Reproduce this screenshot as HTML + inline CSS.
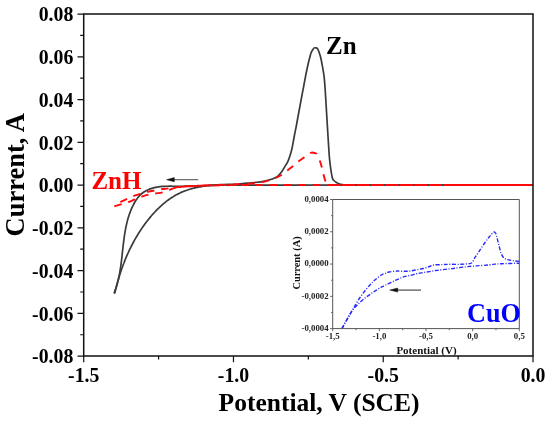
<!DOCTYPE html><html><head><meta charset="utf-8"><style>html,body{margin:0;padding:0;background:#fff;}svg{display:block;}text{font-family:"Liberation Serif","Times New Roman",serif;font-weight:bold;}</style></head><body>
<svg width="550" height="421" viewBox="0 0 550 421">
<rect width="550" height="421" fill="#fff"/>
<path d="M532.8,185.0 L240.01,185.09 C239.71,185.08 238.82,185.05 238.22,185.04 C237.63,185.02 237.04,185.01 236.44,185.00 C235.85,184.99 235.26,184.98 234.68,184.97 C234.09,184.96 233.50,184.96 232.92,184.95 C232.33,184.95 231.75,184.95 231.17,184.95 C230.58,184.95 230.00,184.95 229.42,184.95 C228.84,184.95 228.26,184.95 227.68,184.96 C227.11,184.96 226.53,184.97 225.95,184.97 C225.38,184.98 224.80,184.99 224.23,185.00 C223.65,185.01 223.08,185.02 222.51,185.03 C221.94,185.04 221.37,185.05 220.80,185.07 C220.22,185.08 219.66,185.09 219.09,185.11 C218.52,185.12 217.95,185.14 217.38,185.16 C216.81,185.17 216.24,185.19 215.68,185.21 C215.11,185.23 214.54,185.25 213.98,185.26 C213.41,185.28 212.85,185.30 212.28,185.32 C211.72,185.34 211.15,185.36 210.59,185.39 C210.02,185.41 209.46,185.43 208.89,185.45 C208.33,185.47 207.76,185.49 207.20,185.51 C206.64,185.54 206.07,185.56 205.51,185.58 C204.94,185.60 204.38,185.62 203.81,185.65 C203.25,185.67 202.69,185.69 202.12,185.71 C201.56,185.73 200.99,185.76 200.43,185.78 C199.86,185.80 199.30,185.82 198.73,185.84 C198.17,185.86 197.60,185.88 197.03,185.90 C196.47,185.92 195.90,185.94 195.33,185.96 C194.76,185.98 194.20,186.00 193.63,186.02 C193.06,186.03 192.49,186.05 191.92,186.07 C191.35,186.08 190.78,186.10 190.21,186.12 C189.64,186.13 189.06,186.14 188.49,186.16 C187.92,186.17 187.35,186.18 186.77,186.19 C186.20,186.21 185.62,186.22 185.04,186.22 C184.47,186.23 183.89,186.24 183.31,186.25 C182.73,186.26 182.15,186.26 181.57,186.27 C180.99,186.27 180.40,186.27 179.82,186.27 C179.24,186.28 178.65,186.28 178.07,186.27 C177.48,186.27 176.89,186.27 176.30,186.27 C175.71,186.26 175.12,186.26 174.53,186.25 C173.94,186.24 173.35,186.24 172.75,186.23 C172.16,186.23 171.57,186.22 170.97,186.22 C170.38,186.21 169.78,186.21 169.19,186.22 C168.60,186.22 168.00,186.22 167.41,186.23 C166.82,186.24 166.22,186.25 165.63,186.27 C165.04,186.29 164.45,186.32 163.86,186.35 C163.27,186.38 162.68,186.42 162.10,186.46 C161.51,186.51 160.93,186.56 160.35,186.62 C159.76,186.69 159.19,186.76 158.61,186.84 C158.03,186.92 157.46,187.01 156.89,187.11 C156.32,187.21 155.75,187.32 155.18,187.45 C154.62,187.57 154.06,187.71 153.51,187.85 C152.95,188.00 152.40,188.16 151.86,188.32 C151.32,188.49 150.78,188.68 150.25,188.87 C149.72,189.06 149.19,189.27 148.67,189.49 C148.16,189.71 147.64,189.94 147.14,190.18 C146.64,190.42 146.15,190.68 145.66,190.95 C145.18,191.22 144.70,191.51 144.24,191.80 C143.77,192.10 143.32,192.41 142.87,192.74 C142.43,193.06 141.99,193.40 141.57,193.76 C141.15,194.11 140.73,194.48 140.33,194.86 C139.94,195.25 139.55,195.65 139.17,196.06 C138.80,196.47 138.43,196.90 138.08,197.33 C137.73,197.77 137.39,198.22 137.06,198.68 C136.72,199.13 136.40,199.60 136.09,200.08 C135.78,200.55 135.47,201.04 135.18,201.53 C134.89,202.02 134.60,202.51 134.32,203.01 C134.04,203.51 133.77,204.02 133.51,204.53 C133.25,205.04 132.99,205.55 132.74,206.06 C132.49,206.57 132.25,207.09 132.02,207.61 C131.78,208.13 131.55,208.65 131.33,209.17 C131.10,209.69 130.89,210.22 130.68,210.75 C130.47,211.28 130.26,211.81 130.06,212.34 C129.86,212.87 129.67,213.40 129.48,213.94 C129.30,214.48 129.11,215.02 128.94,215.56 C128.76,216.10 128.59,216.64 128.42,217.18 C128.26,217.73 128.10,218.28 127.94,218.82 C127.78,219.37 127.63,219.92 127.49,220.47 C127.34,221.02 127.20,221.58 127.06,222.13 C126.92,222.69 126.79,223.24 126.66,223.80 C126.53,224.36 126.40,224.92 126.28,225.48 C126.16,226.04 126.04,226.60 125.92,227.17 C125.81,227.73 125.70,228.30 125.59,228.86 C125.48,229.43 125.38,230.00 125.28,230.56 C125.18,231.13 125.08,231.70 124.98,232.27 C124.89,232.84 124.79,233.42 124.70,233.99 C124.61,234.56 124.53,235.13 124.44,235.71 C124.36,236.28 124.27,236.86 124.19,237.43 C124.11,238.01 124.03,238.59 123.96,239.16 C123.88,239.74 123.80,240.32 123.73,240.90 C123.66,241.47 123.59,242.05 123.52,242.63 C123.44,243.21 123.38,243.79 123.31,244.37 C123.24,244.95 123.17,245.53 123.11,246.11 C123.04,246.69 122.97,247.27 122.91,247.86 C122.84,248.44 122.78,249.02 122.72,249.60 C122.65,250.18 122.59,250.76 122.52,251.34 C122.46,251.92 122.40,252.51 122.33,253.09 C122.27,253.67 122.21,254.25 122.14,254.83 C122.08,255.41 122.01,255.99 121.95,256.57 C121.88,257.15 121.82,257.73 121.75,258.31 C121.68,258.89 121.61,259.47 121.55,260.05 C121.48,260.63 121.41,261.20 121.33,261.78 C121.26,262.36 121.19,262.93 121.12,263.51 C121.04,264.09 120.96,264.66 120.89,265.24 C120.81,265.81 120.73,266.38 120.65,266.96 C120.56,267.53 120.48,268.10 120.39,268.67 C120.30,269.24 120.22,269.81 120.12,270.38 C120.03,270.95 119.94,271.52 119.84,272.08 C119.74,272.65 119.64,273.22 119.54,273.78 C119.43,274.34 119.33,274.91 119.22,275.47 C119.11,276.03 118.99,276.59 118.88,277.15 C118.76,277.70 118.64,278.26 118.51,278.82 C118.39,279.37 118.26,279.93 118.13,280.48 C117.99,281.03 117.86,281.58 117.72,282.13 C117.58,282.68 117.43,283.22 117.28,283.77 C117.13,284.31 116.97,284.86 116.81,285.40 C116.65,285.94 116.49,286.48 116.32,287.01 C116.15,287.55 115.97,288.08 115.79,288.62 C115.61,289.15 115.43,289.68 115.24,290.21 C115.04,290.74 114.85,291.26 114.64,291.79 C114.44,292.31 114.12,293.09 114.02,293.35" fill="none" stroke="#3a3a3a" stroke-width="1.7" stroke-linejoin="round"/>
<path d="M114.62,293.57 C114.68,293.33 114.85,292.58 114.97,292.08 C115.09,291.58 115.21,291.08 115.33,290.58 C115.45,290.09 115.57,289.59 115.69,289.09 C115.82,288.59 115.94,288.09 116.07,287.60 C116.20,287.10 116.33,286.60 116.46,286.10 C116.59,285.61 116.72,285.11 116.86,284.61 C116.99,284.12 117.13,283.62 117.26,283.12 C117.40,282.63 117.54,282.13 117.68,281.64 C117.82,281.14 117.97,280.64 118.11,280.15 C118.25,279.65 118.40,279.16 118.55,278.66 C118.70,278.17 118.84,277.68 119.00,277.18 C119.15,276.69 119.30,276.19 119.46,275.70 C119.61,275.21 119.77,274.72 119.93,274.22 C120.08,273.73 120.24,273.24 120.41,272.75 C120.57,272.26 120.73,271.77 120.90,271.28 C121.06,270.79 121.23,270.30 121.40,269.81 C121.57,269.32 121.74,268.83 121.91,268.34 C122.08,267.85 122.26,267.37 122.44,266.88 C122.61,266.39 122.79,265.91 122.97,265.42 C123.15,264.94 123.33,264.45 123.52,263.97 C123.70,263.48 123.89,263.00 124.08,262.52 C124.26,262.03 124.45,261.55 124.65,261.07 C124.84,260.59 125.03,260.11 125.23,259.63 C125.42,259.15 125.62,258.67 125.82,258.19 C126.02,257.71 126.22,257.23 126.42,256.76 C126.63,256.28 126.83,255.80 127.04,255.33 C127.25,254.85 127.46,254.38 127.67,253.91 C127.88,253.43 128.09,252.96 128.31,252.49 C128.53,252.02 128.74,251.55 128.96,251.08 C129.18,250.61 129.40,250.14 129.63,249.67 C129.85,249.20 130.08,248.73 130.30,248.27 C130.53,247.80 130.76,247.34 130.99,246.87 C131.23,246.41 131.46,245.95 131.70,245.49 C131.93,245.03 132.17,244.56 132.41,244.11 C132.65,243.65 132.89,243.19 133.14,242.73 C133.38,242.27 133.63,241.82 133.88,241.36 C134.13,240.91 134.38,240.45 134.63,240.00 C134.88,239.55 135.14,239.10 135.40,238.65 C135.65,238.20 135.91,237.75 136.18,237.30 C136.44,236.85 136.70,236.41 136.97,235.96 C137.23,235.52 137.50,235.07 137.77,234.63 C138.04,234.19 138.32,233.75 138.59,233.31 C138.87,232.87 139.14,232.43 139.42,231.99 C139.70,231.55 139.99,231.12 140.27,230.68 C140.55,230.25 140.84,229.82 141.13,229.39 C141.42,228.95 141.71,228.52 142.00,228.10 C142.30,227.67 142.59,227.24 142.89,226.82 C143.19,226.39 143.49,225.97 143.79,225.54 C144.09,225.12 144.40,224.70 144.70,224.28 C145.01,223.86 145.32,223.44 145.63,223.03 C145.95,222.61 146.26,222.20 146.58,221.79 C146.89,221.37 147.21,220.96 147.53,220.55 C147.86,220.14 148.18,219.73 148.51,219.33 C148.83,218.92 149.16,218.52 149.49,218.12 C149.82,217.71 150.16,217.31 150.49,216.91 C150.83,216.51 151.17,216.12 151.51,215.72 C151.85,215.32 152.19,214.93 152.54,214.54 C152.88,214.15 153.23,213.76 153.58,213.37 C153.93,212.98 154.29,212.60 154.64,212.21 C155.00,211.83 155.36,211.45 155.72,211.07 C156.08,210.69 156.44,210.32 156.81,209.95 C157.17,209.57 157.54,209.20 157.91,208.84 C158.28,208.47 158.66,208.11 159.03,207.75 C159.41,207.38 159.79,207.03 160.17,206.67 C160.55,206.32 160.93,205.97 161.32,205.62 C161.71,205.27 162.10,204.93 162.49,204.58 C162.88,204.24 163.27,203.91 163.67,203.57 C164.07,203.24 164.47,202.91 164.87,202.58 C165.27,202.26 165.67,201.94 166.08,201.62 C166.49,201.30 166.90,200.99 167.31,200.68 C167.72,200.37 168.14,200.06 168.55,199.76 C168.97,199.46 169.39,199.17 169.81,198.87 C170.24,198.58 170.66,198.30 171.09,198.01 C171.52,197.73 171.95,197.45 172.38,197.18 C172.81,196.90 173.25,196.63 173.69,196.37 C174.12,196.11 174.56,195.85 175.01,195.59 C175.45,195.34 175.89,195.09 176.34,194.84 C176.79,194.60 177.24,194.36 177.69,194.12 C178.14,193.89 178.60,193.66 179.06,193.43 C179.51,193.21 179.97,192.99 180.44,192.78 C180.90,192.56 181.36,192.35 181.83,192.15 C182.30,191.95 182.76,191.75 183.24,191.56 C183.71,191.36 184.18,191.18 184.66,190.99 C185.13,190.81 185.61,190.63 186.09,190.46 C186.57,190.29 187.05,190.12 187.54,189.96 C188.02,189.80 188.51,189.64 188.99,189.49 C189.48,189.33 189.97,189.18 190.46,189.04 C190.95,188.90 191.45,188.76 191.94,188.62 C192.44,188.49 192.93,188.36 193.43,188.23 C193.93,188.10 194.43,187.98 194.93,187.86 C195.43,187.75 195.94,187.63 196.44,187.52 C196.94,187.41 197.45,187.30 197.96,187.20 C198.46,187.10 198.97,187.00 199.48,186.91 C199.99,186.81 200.50,186.72 201.01,186.63 C201.53,186.54 202.04,186.46 202.55,186.38 C203.07,186.30 203.58,186.22 204.10,186.14 C204.61,186.07 205.13,186.00 205.65,185.93 C206.17,185.86 206.69,185.80 207.20,185.73 C207.72,185.67 208.24,185.61 208.77,185.56 C209.29,185.50 209.81,185.44 210.33,185.39 C210.85,185.34 211.37,185.29 211.90,185.25 C212.42,185.20 212.94,185.16 213.47,185.12 C213.99,185.07 214.52,185.03 215.04,185.00 C215.57,184.96 216.09,184.93 216.62,184.89 C217.14,184.86 217.67,184.83 218.19,184.80 C218.72,184.77 219.24,184.74 219.77,184.72 C220.29,184.69 220.82,184.67 221.34,184.65 C221.87,184.62 222.40,184.60 222.92,184.58 C223.45,184.57 223.97,184.55 224.50,184.53 C225.02,184.51 225.54,184.50 226.07,184.49 C226.59,184.47 227.12,184.46 227.64,184.45 C228.16,184.44 228.69,184.42 229.21,184.41 C229.73,184.40 230.25,184.40 230.77,184.39 C231.29,184.38 231.81,184.37 232.33,184.36 C232.85,184.36 233.37,184.35 233.89,184.34 C234.41,184.34 234.93,184.33 235.44,184.32 C235.96,184.32 236.47,184.31 236.99,184.31 C237.50,184.30 238.03,184.38 238.53,184.29 C239.03,184.21 237.34,184.10 240.00,183.80 C242.66,183.50 250.83,182.87 254.50,182.50 C258.17,182.13 259.75,181.97 262.00,181.60 C264.25,181.23 266.28,180.73 268.00,180.30 C269.72,179.87 270.70,179.67 272.30,179.00 C273.90,178.33 276.00,177.55 277.60,176.30 C279.20,175.05 280.65,173.20 281.90,171.50 C283.15,169.80 284.13,167.70 285.10,166.10 C286.07,164.50 286.90,163.58 287.70,161.90 C288.50,160.22 289.18,158.23 289.90,156.00 C290.62,153.77 291.38,151.17 292.00,148.50 C292.62,145.83 293.17,142.33 293.60,140.00 C294.03,137.67 294.15,136.83 294.60,134.50 C295.05,132.17 295.68,129.25 296.30,126.00 C296.92,122.75 297.55,119.08 298.30,115.00 C299.05,110.92 299.97,105.95 300.80,101.50 C301.63,97.05 302.47,92.72 303.30,88.30 C304.13,83.88 305.03,78.88 305.80,75.00 C306.57,71.12 307.28,67.75 307.90,65.00 C308.52,62.25 308.98,60.50 309.50,58.50 C310.02,56.50 310.48,54.42 311.00,53.00 C311.52,51.58 312.05,50.85 312.60,50.00 C313.15,49.15 313.73,48.25 314.30,47.90 C314.87,47.55 315.50,47.78 316.00,47.90 C316.50,48.02 316.83,48.00 317.30,48.60 C317.77,49.20 318.27,50.13 318.80,51.50 C319.33,52.87 320.00,54.88 320.50,56.80 C321.00,58.72 321.20,59.70 321.80,63.00 C322.40,66.30 323.50,71.57 324.10,76.60 C324.70,81.63 325.00,87.38 325.40,93.20 C325.80,99.02 326.15,105.70 326.50,111.50 C326.85,117.30 327.17,122.55 327.50,128.00 C327.83,133.45 328.17,139.12 328.50,144.20 C328.83,149.28 329.13,154.45 329.50,158.50 C329.87,162.55 330.23,165.28 330.70,168.50 C331.17,171.72 331.82,175.83 332.30,177.80 C332.78,179.77 332.92,179.53 333.60,180.30 C334.28,181.07 335.23,181.73 336.40,182.40 C337.57,183.07 338.33,183.87 340.60,184.30 C342.87,184.73 346.77,184.88 350.00,185.00 C353.23,185.12 358.33,185.00 360.00,185.00 L532.8,185.0" fill="none" stroke="#3a3a3a" stroke-width="1.7" stroke-linejoin="round"/>
<path d="M326.40,185.00 C322.00,185.00 311.07,185.00 300.00,185.00 C288.93,185.00 270.00,184.99 260.00,185.00 C250.00,185.01 246.67,185.00 240.00,185.05 C233.33,185.10 226.67,185.18 220.00,185.30 C213.33,185.43 203.33,185.72 200.00,185.80" fill="none" stroke="#ff0a0a" stroke-width="1.9" stroke-dasharray="7.5 6.8" stroke-dashoffset="8.03"/>
<path d="M200.00,185.80 C198.33,185.87 194.00,185.95 190.00,186.20 C186.00,186.45 179.63,186.93 176.00,187.30 C172.37,187.67 170.63,188.10 168.20,188.40 C165.77,188.70 163.68,188.75 161.40,189.10 C159.12,189.45 156.85,190.05 154.50,190.50 C152.15,190.95 149.63,191.23 147.30,191.80 C144.97,192.37 142.83,193.18 140.50,193.90 C138.17,194.62 135.60,195.23 133.30,196.10 C131.00,196.97 128.88,198.07 126.70,199.10 C124.52,200.13 122.25,201.10 120.20,202.30 C118.15,203.50 115.37,205.63 114.40,206.30" fill="none" stroke="#ff0a0a" stroke-width="1.9" stroke-dasharray="7.5 6.8" stroke-dashoffset="11.25"/>
<path d="M114.40,206.30 C115.60,205.95 119.30,204.90 121.60,204.20 C123.90,203.50 126.02,202.90 128.20,202.10 C130.38,201.30 132.43,200.32 134.70,199.40 C136.97,198.48 139.48,197.40 141.80,196.60 C144.12,195.80 146.32,195.12 148.60,194.60 C150.88,194.08 153.15,193.88 155.50,193.50 C157.85,193.12 160.28,192.95 162.70,192.30 C165.12,191.65 167.72,190.40 170.00,189.60 C172.28,188.80 173.07,188.07 176.40,187.50 C179.73,186.93 186.07,186.50 190.00,186.20 C193.93,185.90 198.33,185.78 200.00,185.70" fill="none" stroke="#ff0a0a" stroke-width="1.9" stroke-dasharray="7.5 6.8" stroke-dashoffset="0.00"/>
<path d="M200.00,185.70 C201.67,185.63 205.00,185.48 210.00,185.30 C215.00,185.12 223.33,184.88 230.00,184.60 C236.67,184.32 245.00,183.95 250.00,183.60 C255.00,183.25 257.00,183.00 260.00,182.50 C263.00,182.00 265.52,181.32 268.00,180.60 C270.48,179.88 272.58,179.18 274.90,178.20 C277.22,177.22 279.85,175.97 281.90,174.70 C283.95,173.43 285.33,172.03 287.20,170.60 C289.07,169.17 291.27,167.58 293.10,166.10 C294.93,164.62 296.30,163.20 298.20,161.70 C300.10,160.20 302.78,158.32 304.50,157.10 C306.22,155.88 307.33,155.15 308.50,154.40 C309.67,153.65 310.50,152.83 311.50,152.60 C312.50,152.37 313.53,152.68 314.50,153.00 C315.47,153.32 316.30,152.87 317.30,154.50 C318.30,156.13 319.65,160.25 320.50,162.80 C321.35,165.35 321.77,167.35 322.40,169.80 C323.03,172.25 323.67,175.23 324.30,177.50 C324.93,179.77 325.67,182.15 326.20,183.40 C326.73,184.65 327.28,184.73 327.50,185.00" fill="none" stroke="#ff0a0a" stroke-width="1.9" stroke-dasharray="7.5 6.8" stroke-dashoffset="9.91"/>
<path d="M326.4,185.0 H445" fill="none" stroke="#ff0a0a" stroke-width="2.1" stroke-dasharray="13 1.5" stroke-dashoffset="-1"/>
<path d="M444,185.0 H532.8" fill="none" stroke="#ff0a0a" stroke-width="2.1"/>
<path d="M83.7,14.1 H533.0 V356.1 H83.7 Z" fill="none" stroke="#111" stroke-width="1.5"/>
<path d="M77.50,14.10 H83.7 M77.50,56.85 H83.7 M77.50,99.60 H83.7 M77.50,142.35 H83.7 M77.50,185.10 H83.7 M77.50,227.85 H83.7 M77.50,270.60 H83.7 M77.50,313.35 H83.7 M77.50,356.10 H83.7 M80.20,35.47 H83.7 M80.20,78.22 H83.7 M80.20,120.97 H83.7 M80.20,163.72 H83.7 M80.20,206.47 H83.7 M80.20,249.22 H83.7 M80.20,291.98 H83.7 M80.20,334.73 H83.7 M83.70,356.1 V362.30 M233.47,356.1 V362.30 M383.23,356.1 V362.30 M533.00,356.1 V362.30 M158.58,356.1 V359.60 M308.35,356.1 V359.60 M458.12,356.1 V359.60" stroke="#111" stroke-width="1.2" fill="none"/>
<text transform="translate(73.3,21.30) scale(1,1.08)" font-size="19.8" text-anchor="end">0.08</text>
<text transform="translate(73.3,64.05) scale(1,1.08)" font-size="19.8" text-anchor="end">0.06</text>
<text transform="translate(73.3,106.80) scale(1,1.08)" font-size="19.8" text-anchor="end">0.04</text>
<text transform="translate(73.3,149.55) scale(1,1.08)" font-size="19.8" text-anchor="end">0.02</text>
<text transform="translate(73.3,192.30) scale(1,1.08)" font-size="19.8" text-anchor="end">0.00</text>
<text transform="translate(73.3,235.05) scale(1,1.08)" font-size="19.8" text-anchor="end">-0.02</text>
<text transform="translate(73.3,277.80) scale(1,1.08)" font-size="19.8" text-anchor="end">-0.04</text>
<text transform="translate(73.3,320.55) scale(1,1.08)" font-size="19.8" text-anchor="end">-0.06</text>
<text transform="translate(73.3,363.30) scale(1,1.08)" font-size="19.8" text-anchor="end">-0.08</text>
<text transform="translate(83.70,382.2) scale(1,1.08)" font-size="19.8" text-anchor="middle">-1.5</text>
<text transform="translate(233.47,382.2) scale(1,1.08)" font-size="19.8" text-anchor="middle">-1.0</text>
<text transform="translate(383.23,382.2) scale(1,1.08)" font-size="19.8" text-anchor="middle">-0.5</text>
<text transform="translate(533.00,382.2) scale(1,1.08)" font-size="19.8" text-anchor="middle">0.0</text>
<text x="218.6" y="410.8" font-size="25.5">Potential, V (SCE)</text>
<text transform="translate(24.2,236.4) rotate(-90)" font-size="26.5">Current, A</text>
<text x="326.0" y="53.6" font-size="25">Zn</text>
<text x="91.4" y="188.7" font-size="25" fill="#ff0000">ZnH</text>
<path d="M173,179.7 H198.2" stroke="#5a5a5a" stroke-width="1.1"/>
<path d="M166.6,179.7 L174.3,177.6 L174.3,181.8 Z" fill="#111" stroke="#111" stroke-width="0.5" stroke-linejoin="round"/>
<path d="M341.90,328.60 C342.42,327.67 343.82,325.10 345.00,323.00 C346.18,320.90 347.72,318.22 349.00,316.00 C350.28,313.78 351.18,312.28 352.70,309.70 C354.22,307.12 355.92,303.83 358.10,300.50 C360.28,297.17 363.22,292.92 365.80,289.70 C368.38,286.48 371.02,283.65 373.60,281.20 C376.18,278.75 379.40,276.30 381.30,275.00 C383.20,273.70 383.72,273.90 385.00,273.40 C386.28,272.90 387.33,272.37 389.00,272.00 C390.67,271.63 393.55,271.37 395.00,271.20 C396.45,271.03 396.18,270.98 397.70,271.00 C399.22,271.02 401.97,271.30 404.10,271.30 C406.23,271.30 408.38,271.27 410.50,271.00 C412.62,270.73 414.68,270.12 416.80,269.70 C418.92,269.28 421.08,269.03 423.20,268.50 C425.32,267.97 427.80,267.08 429.50,266.50 C431.20,265.92 431.27,265.32 433.40,265.00 C435.53,264.68 439.53,264.72 442.30,264.60 C445.07,264.48 446.97,264.35 450.00,264.30 C453.03,264.25 457.23,264.42 460.50,264.30 C463.77,264.18 467.63,263.93 469.60,263.60 C471.57,263.27 471.42,263.28 472.30,262.30 C473.18,261.32 473.82,259.45 474.90,257.70 C475.98,255.95 477.28,254.08 478.80,251.80 C480.32,249.52 482.25,246.50 484.00,244.00 C485.75,241.50 487.67,238.77 489.30,236.80 C490.93,234.83 492.72,232.75 493.80,232.20 C494.88,231.65 495.25,232.52 495.80,233.50 C496.35,234.48 496.55,236.03 497.10,238.10 C497.65,240.17 498.45,243.40 499.10,245.90 C499.75,248.40 500.23,251.13 501.00,253.10 C501.77,255.07 502.60,256.60 503.70,257.70 C504.80,258.80 506.08,259.22 507.60,259.70 C509.12,260.18 510.87,260.32 512.80,260.60 C514.73,260.88 518.13,261.27 519.20,261.40" fill="none" stroke="#2a2aff" stroke-width="1.4" stroke-dasharray="4 1.6 1 1.6"/>
<path d="M341.90,328.60 C342.42,327.67 343.82,325.10 345.00,323.00 C346.18,320.90 347.72,318.22 349.00,316.00 C350.28,313.78 351.18,311.67 352.70,309.70 C354.22,307.73 355.92,306.25 358.10,304.20 C360.28,302.15 363.22,299.43 365.80,297.40 C368.38,295.37 371.02,293.70 373.60,292.00 C376.18,290.30 379.40,288.30 381.30,287.20 C383.20,286.10 383.32,286.22 385.00,285.40 C386.68,284.58 389.28,283.30 391.40,282.30 C393.52,281.30 395.58,280.33 397.70,279.40 C399.82,278.47 401.97,277.38 404.10,276.70 C406.23,276.02 408.38,275.80 410.50,275.30 C412.62,274.80 414.68,274.15 416.80,273.70 C418.92,273.25 421.08,272.95 423.20,272.60 C425.32,272.25 427.38,271.95 429.50,271.60 C431.62,271.25 433.77,270.82 435.90,270.50 C438.03,270.18 439.62,270.02 442.30,269.70 C444.98,269.38 448.53,269.03 452.00,268.60 C455.47,268.17 459.07,267.55 463.10,267.10 C467.13,266.65 471.83,266.27 476.20,265.90 C480.57,265.53 486.13,265.20 489.30,264.90 C492.47,264.60 493.02,264.30 495.20,264.10 C497.38,263.90 498.40,263.85 502.40,263.70 C506.40,263.55 516.40,263.28 519.20,263.20" fill="none" stroke="#2a2aff" stroke-width="1.4" stroke-dasharray="4 1.6 1 1.6"/>
<path d="M332.7,199.5 H519.3 V328.6 H332.7 Z" fill="none" stroke="#555" stroke-width="1"/>
<path d="M330.10,199.50 H332.7 M330.10,231.78 H332.7 M330.10,264.05 H332.7 M330.10,296.33 H332.7 M330.10,328.60 H332.7 M331.10,215.64 H332.7 M331.10,247.91 H332.7 M331.10,280.19 H332.7 M331.10,312.46 H332.7 M332.70,328.6 V331.20 M379.35,328.6 V331.20 M426.00,328.6 V331.20 M472.65,328.6 V331.20 M519.30,328.6 V331.20 M356.02,328.6 V330.20 M402.67,328.6 V330.20 M449.32,328.6 V330.20 M495.97,328.6 V330.20" stroke="#555" stroke-width="0.9" fill="none"/>
<text x="328.6" y="201.80" font-size="8.8" text-anchor="end" fill="#222">0,0004</text>
<text x="328.6" y="234.08" font-size="8.8" text-anchor="end" fill="#222">0,0002</text>
<text x="328.6" y="266.35" font-size="8.8" text-anchor="end" fill="#222">0,0000</text>
<text x="328.6" y="298.63" font-size="8.8" text-anchor="end" fill="#222">-0,0002</text>
<text x="328.6" y="330.90" font-size="8.8" text-anchor="end" fill="#222">-0,0004</text>
<text x="332.70" y="339.2" font-size="8.8" text-anchor="middle" fill="#222">-1,5</text>
<text x="379.35" y="339.2" font-size="8.8" text-anchor="middle" fill="#222">-1,0</text>
<text x="426.00" y="339.2" font-size="8.8" text-anchor="middle" fill="#222">-0,5</text>
<text x="472.65" y="339.2" font-size="8.8" text-anchor="middle" fill="#222">0,0</text>
<text x="519.30" y="339.2" font-size="8.8" text-anchor="middle" fill="#222">0,5</text>
<text x="396.4" y="353.5" font-size="11" fill="#111">Potential (V)</text>
<text transform="translate(299.6,289.6) rotate(-90)" font-size="10.4" fill="#111">Current (A)</text>
<text transform="translate(467.0,321.9) scale(1,1.07)" font-size="26.2" fill="#0000ff">CuO</text>
<path d="M396,290.1 H421" stroke="#666" stroke-width="1.4"/>
<path d="M389.7,290.1 L397.7,288.1 L397.7,292.1 Z" fill="#111" stroke="#111" stroke-width="0.5" stroke-linejoin="round"/>
</svg></body></html>
